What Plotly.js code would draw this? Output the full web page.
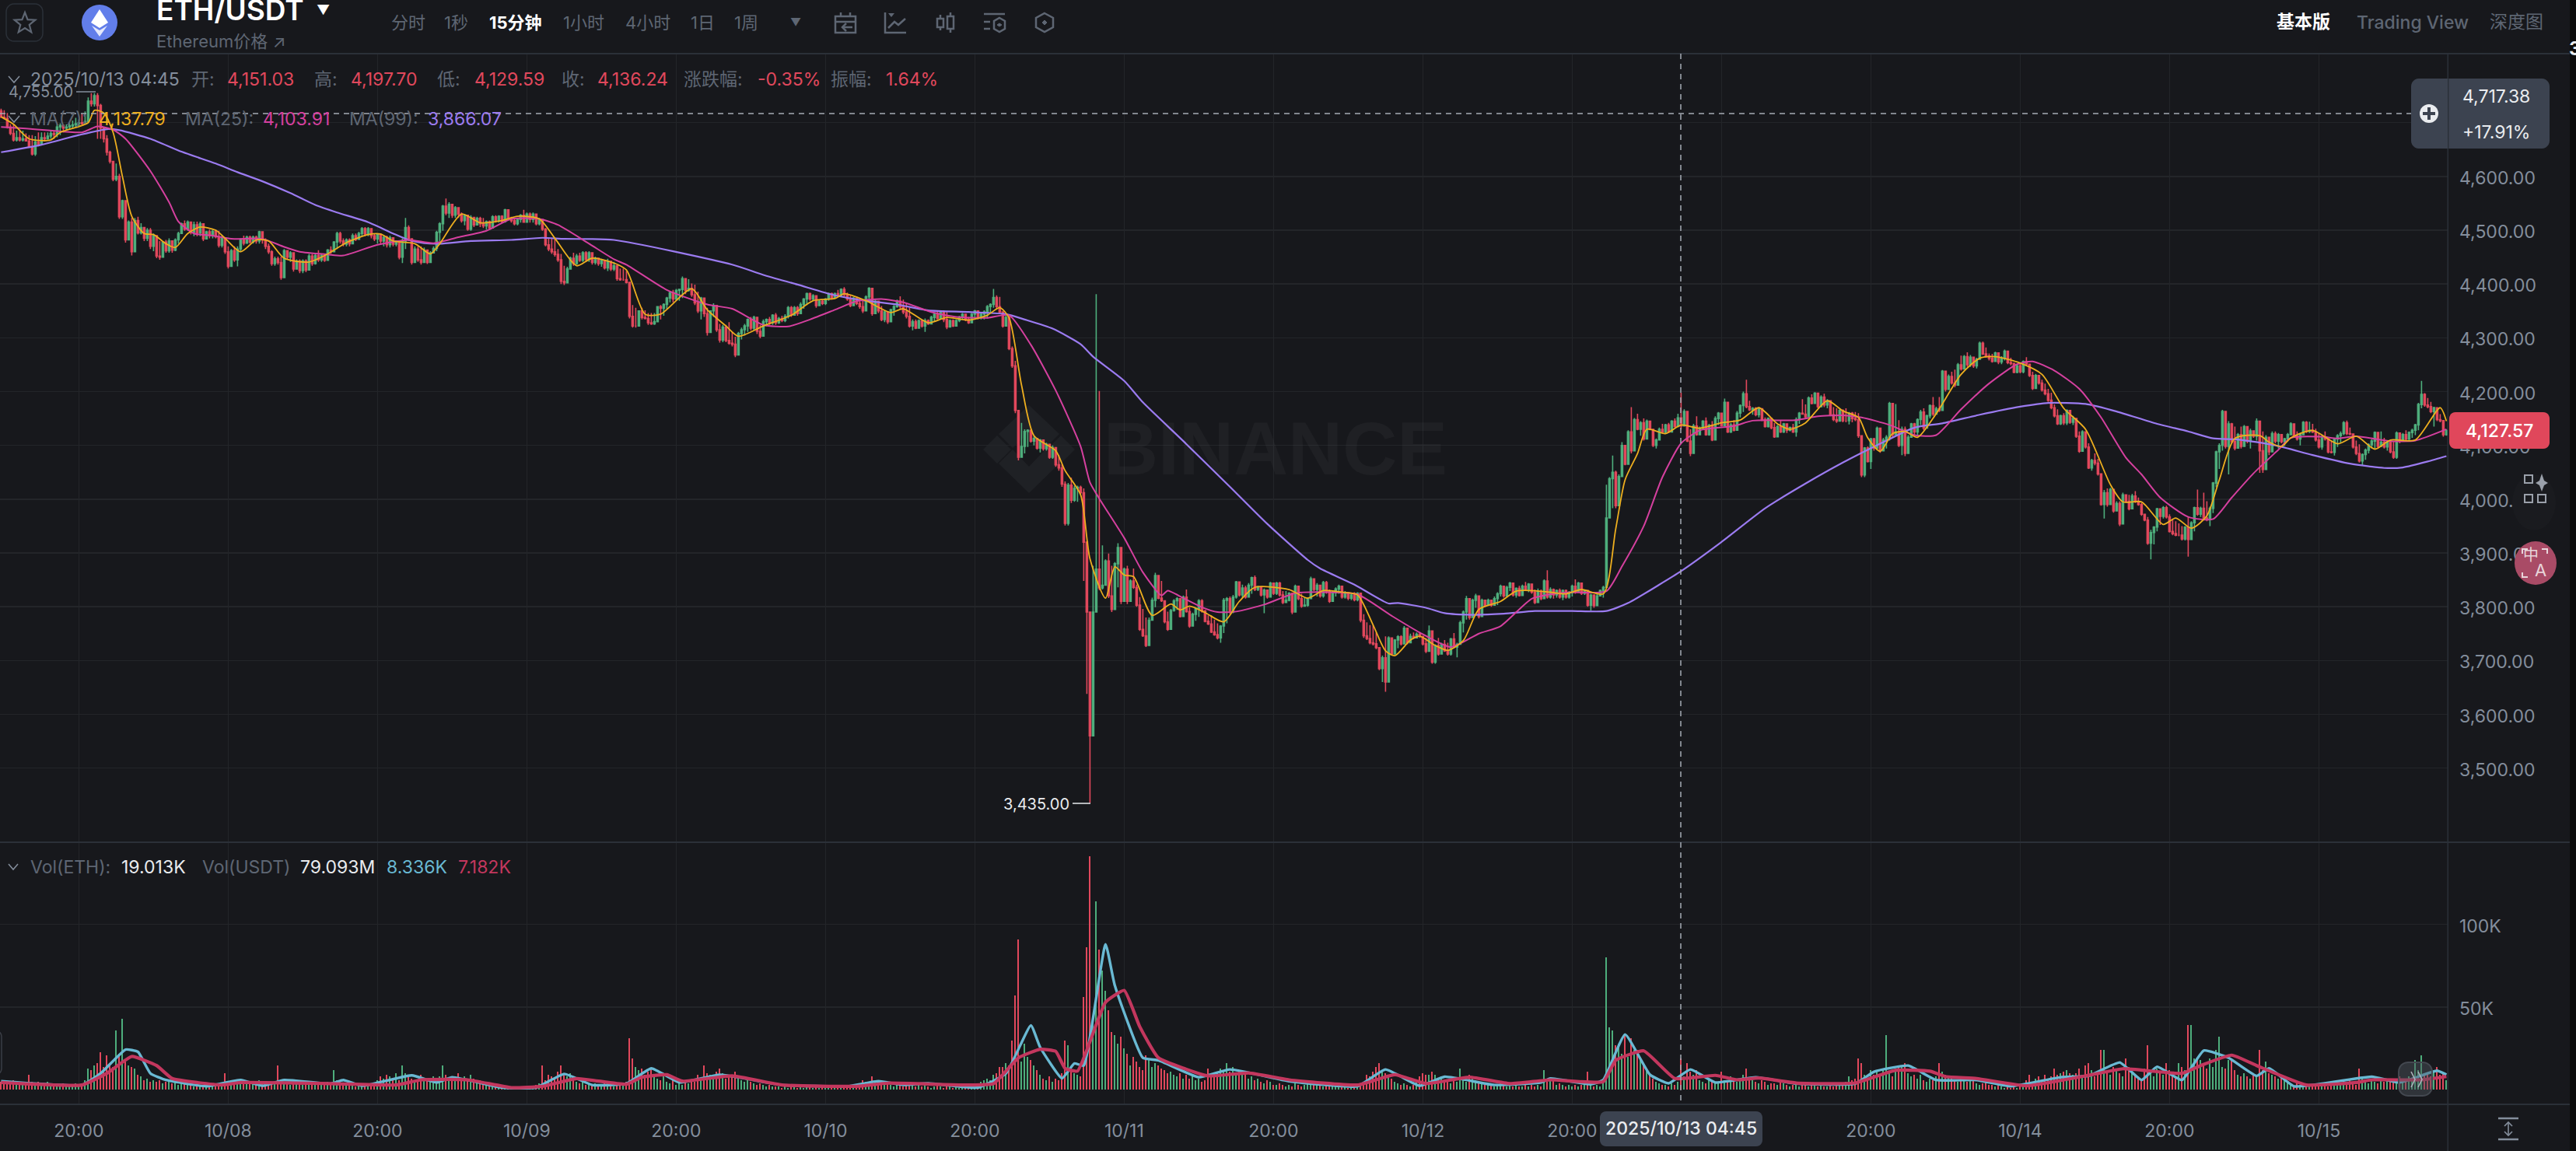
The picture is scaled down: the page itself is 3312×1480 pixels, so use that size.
<!DOCTYPE html>
<html><head><meta charset="utf-8">
<script src="https://cdn.plot.ly/plotly-3.0.1.min.js"></script>
<style>html,body{margin:0;padding:0;background:#17181c;overflow:hidden}#c{width:3312px;height:1480px}</style>
</head><body><div id="c"></div>
<script>
const firstOpen = 4722;
const closes = [
4710,4708,4692,4680,4668,4672,4668,4670,4666,4655,
4642,4664,4660,4672,4670,4675,4680,4678,4692,4695,
4690,4692,4694,4696,4698,4700,4698,4702,4740,4735,
4750,4732,4690,4670,4645,4628,4595,4600,4525,4555,
4482,4515,4460,4518,4495,4505,4485,4500,4470,4490,
4452,4450,4478,4462,4480,4463,4482,4494,4512,4502,
4515,4496,4510,4495,4512,4484,4497,4490,4498,4488,
4472,4486,4460,4433,4462,4445,4465,4482,4476,4487,
4478,4487,4480,4497,4482,4470,4460,4438,4447,4440,
4412,4462,4450,4458,4428,4442,4425,4443,4426,4452,
4438,4453,4445,4453,4444,4463,4460,4478,4494,4480,
4474,4482,4475,4490,4483,4494,4503,4493,4503,4490,
4484,4492,4480,4487,4473,4486,4474,4480,4450,4480,
4505,4484,4440,4465,4445,4440,4463,4440,4458,4466,
4496,4512,4545,4532,4548,4528,4542,4530,4518,4528,
4502,4524,4510,4522,4512,4508,4516,4504,4525,4518,
4526,4516,4538,4522,4518,4512,4520,4528,4515,4530,
4520,4530,4512,4520,4502,4473,4465,4460,4455,4445,
4405,4402,4428,4448,4438,4452,4444,4458,4446,4458,
4440,4448,4438,4444,4430,4442,4428,4434,4410,4408,
4408,4403,4340,4322,4322,4350,4338,4336,4328,4326,
4330,4358,4355,4362,4374,4384,4372,4388,4390,4410,
4388,4392,4380,4365,4350,4374,4345,4310,4350,4360,
4315,4296,4320,4295,4290,4288,4268,4308,4315,4322,
4334,4318,4338,4312,4303,4330,4334,4328,4342,4328,
4336,4332,4340,4356,4342,4356,4345,4362,4372,4382,
4372,4378,4360,4368,4364,4372,4382,4374,4382,4378,
4390,4380,4372,4360,4374,4364,4358,4350,4376,4392,
4345,4368,4350,4334,4348,4330,4352,4358,4368,4358,
4348,4340,4322,4330,4318,4332,4322,4332,4326,4338,
4344,4336,4348,4334,4320,4332,4322,4332,4338,4344,
4334,4328,4344,4350,4338,4344,4348,4358,4362,4375,
4358,4348,4322,4338,4280,4248,4165,4078,4098,4126,
4128,4108,4113,4095,4110,4094,4102,4078,4096,4064,
4058,4028,3955,4026,3998,4020,4022,4012,3920,3790,
3560,3790,3870,3835,3840,3885,3820,3795,3880,3910,
3810,3870,3810,3848,3836,3803,3758,3746,3728,3775,
3812,3858,3816,3811,3772,3758,3793,3811,3815,3782,
3818,3791,3764,3786,3796,3811,3792,3773,3768,3753,
3748,3742,3764,3812,3815,3790,3818,3846,3822,3835,
3818,3840,3854,3832,3837,3822,3831,3818,3844,3825,
3844,3822,3808,3812,3825,3790,3838,3815,3801,3803,
3815,3852,3832,3840,3820,3845,3828,3810,3826,3833,
3838,3818,3826,3816,3822,3813,3825,3775,3746,3741,
3733,3731,3724,3685,3705,3660,3742,3712,3738,3744,
3731,3760,3733,3745,3742,3749,3745,3731,3717,3755,
3697,3728,3712,3730,3718,3712,3740,3725,3730,3770,
3790,3815,3780,3812,3820,3782,3812,3803,3812,3803,
3815,3824,3838,3820,3836,3844,3822,3834,3821,3838,
3832,3842,3827,3808,3828,3815,3848,3818,3832,3822,
3830,3818,3830,3818,3826,3838,3827,3844,3825,3830,
3803,3822,3802,3820,3830,3836,3965,4038,4050,3988,
4042,4100,4065,4125,4090,4148,4130,4142,4112,4145,
4130,4100,4110,4130,4125,4138,4125,4145,4135,4151.03,
4136.24,4163,4108,4085,4136,4120,4132,4145,4120,4137,
4110,4150,4160,4137,4180,4125,4138,4128,4160,4174,
4196,4172,4166,4169,4157,4168,4148,4135,4150,4133,
4116,4135,4125,4140,4128,4133,4125,4148,4160,4158,
4153,4188,4178,4197,4172,4190,4175,4183,4157,4148,
4145,4165,4146,4146,4160,4150,4148,4118,4045,4095,
4070,4112,4095,4132,4090,4110,4115,4178,4120,4125,
4100,4130,4085,4115,4140,4125,4148,4162,4132,4155,
4174,4158,4168,4165,4238,4204,4228,4216,4212,4250,
4242,4265,4250,4264,4248,4260,4290,4270,4266,4262,
4256,4272,4255,4262,4275,4254,4252,4236,4248,4237,
4256,4251,4230,4206,4230,4216,4203,4196,4184,4170,
4155,4140,4155,4142,4165,4143,4150,4117,4089,4125,
4097,4058,4072,4067,4047,3990,4012,3990,4018,3978,
3992,3954,4008,3996,3982,4006,3996,3990,3972,3961,
3918,3938,3948,3982,3968,3984,3967,3940,3936,3933,
3933,3926,3948,3925,3956,3984,3972,3983,3965,3962,
3983,4030,4088,4100,4163,4098,4140,4107,4095,4120,
4098,4135,4108,4127,4117,4145,4090,4055,4115,4088,
4122,4108,4120,4107,4112,4120,4140,4117,4112,4120,
4143,4126,4128,4125,4110,4097,4115,4112,4088,4087,
4112,4118,4122,4142,4122,4121,4097,4085,4071,4083,
4091,4101,4108,4124,4098,4106,4097,4106,4088,4078,
4123,4108,4120,4112,4124,4128,4138,4176,4195,4175,
4172,4163,4170,4148,4146,4120,4127.57];
const highs = [
4726,4723,4718,4697,4697,4685,4687,4685,4680,4677,
4677,4675,4682,4682,4682,4682,4685,4685,4697,4699,
4697,4697,4699,4704,4709,4706,4716,4721,4747,4755,
4755,4755,4735,4687,4677,4648,4629,4624,4605,4557,
4555,4518,4523,4523,4525,4513,4501,4504,4504,4494,
4485,4480,4480,4482,4485,4480,4485,4497,4514,4518,
4518,4516,4516,4516,4516,4501,4499,4501,4501,4501,
4499,4490,4475,4470,4465,4470,4470,4485,4490,4490,
4490,4490,4490,4499,4490,4485,4475,4463,4451,4451,
4451,4465,4461,4461,4446,4446,4446,4446,4446,4456,
4456,4456,4463,4456,4456,4465,4470,4480,4497,4497,
4485,4485,4485,4494,4494,4497,4506,4506,4506,4501,
4494,4494,4494,4490,4490,4490,4480,4480,4480,4485,
4523,4509,4475,4470,4470,4470,4468,4461,4461,4470,
4499,4515,4547,4559,4552,4545,4545,4540,4533,4530,
4523,4528,4525,4525,4525,4523,4518,4518,4528,4528,
4528,4528,4540,4533,4525,4523,4523,4530,4538,4533,
4533,4533,4525,4523,4518,4504,4485,4485,4485,4465,
4456,4434,4432,4451,4458,4456,4458,4461,4461,4461,
4451,4451,4447,4447,4445,4447,4443,4441,4431,4429,
4429,4424,4401,4361,4356,4351,4356,4351,4346,4346,
4346,4359,4361,4364,4376,4386,4389,4391,4391,4414,
4411,4409,4401,4399,4386,4376,4374,4356,4351,4364,
4351,4326,4324,4324,4329,4311,4302,4311,4319,4326,
4336,4339,4341,4329,4324,4334,4336,4339,4344,4346,
4339,4341,4344,4359,4359,4359,4359,4366,4374,4384,
4384,4381,4374,4371,4371,4374,4384,4384,4384,4389,
4392,4394,4384,4379,4376,4374,4374,4371,4379,4394,
4391,4371,4361,4359,4351,4346,4354,4361,4371,4377,
4371,4364,4356,4334,4334,4334,4331,4336,4334,4341,
4346,4349,4351,4351,4349,4334,4334,4334,4341,4346,
4344,4339,4346,4352,4349,4346,4351,4361,4364,4391,
4379,4376,4346,4341,4341,4284,4257,4142,4142,4130,
4130,4122,4117,4112,4112,4107,4105,4102,4100,4087,
4082,4065,4033,4030,4040,4025,4025,4025,4020,3916,
3790,3876,4381,4201,3914,3888,3899,3876,3883,3918,
3902,3873,3876,3851,3871,3841,3818,3796,3780,3780,
3817,3863,3858,3848,3794,3791,3796,3814,3818,3809,
3821,3832,3799,3789,3799,3814,3814,3794,3784,3784,
3776,3769,3766,3816,3818,3819,3822,3848,3841,3841,
3839,3844,3856,3858,3839,3836,3834,3832,3846,3834,
3846,3846,3829,3829,3827,3824,3841,3839,3824,3817,
3817,3856,3851,3844,3839,3848,3848,3832,3829,3836,
3841,3836,3829,3824,3824,3827,3827,3815,3786,3771,
3766,3766,3752,3723,3709,3745,3745,3733,3740,3747,
3747,3764,3745,3750,3752,3752,3752,3742,3742,3765,
3733,3730,3742,3733,3738,3733,3742,3751,3733,3774,
3793,3820,3798,3815,3824,3815,3815,3810,3815,3812,
3819,3827,3841,3836,3839,3846,3841,3836,3839,3841,
3846,3844,3841,3832,3834,3832,3851,3868,3836,3834,
3832,3834,3832,3832,3829,3841,3851,3846,3836,3832,
3829,3824,3822,3824,3832,3839,4027,4041,4081,4053,
4046,4106,4087,4128,4171,4151,4159,4145,4150,4148,
4145,4130,4113,4133,4140,4140,4142,4147,4150,4159,
4197.7,4167,4140,4130,4140,4154,4135,4147,4152,4140,
4145,4154,4162,4150,4187,4145,4142,4147,4164,4176,
4200,4222,4183,4171,4171,4171,4167,4152,4152,4147,
4142,4138,4147,4142,4138,4135,4140,4152,4162,4186,
4176,4191,4195,4199,4191,4193,4196,4186,4179,4171,
4169,4167,4167,4169,4162,4162,4162,4160,4119,4097,
4098,4114,4114,4135,4128,4114,4119,4181,4174,4177,
4147,4135,4135,4119,4142,4142,4150,4166,4169,4157,
4176,4190,4172,4190,4240,4238,4232,4237,4241,4253,
4267,4268,4273,4268,4263,4263,4293,4293,4282,4271,
4270,4274,4268,4266,4278,4273,4263,4254,4251,4254,
4258,4264,4249,4237,4233,4229,4222,4215,4205,4198,
4176,4167,4157,4160,4167,4160,4155,4143,4126,4128,
4119,4104,4075,4085,4075,4044,4017,4020,4021,4008,
3996,3996,4012,4008,4008,4010,4015,4003,3993,3969,
3967,3943,3950,3984,3974,3987,3988,3972,3964,3959,
3955,3950,3950,3967,3959,3986,4018,3986,4012,3996,
3986,4032,4090,4104,4166,4150,4145,4142,4135,4123,
4135,4138,4128,4131,4128,4150,4135,4126,4119,4114,
4126,4126,4123,4119,4114,4123,4143,4133,4126,4123,
4145,4145,4144,4140,4131,4123,4119,4126,4111,4109,
4114,4121,4126,4145,4146,4133,4119,4109,4102,4085,
4094,4104,4111,4126,4109,4126,4114,4109,4109,4107,
4126,4123,4123,4128,4126,4131,4140,4179,4220,4197,
4188,4181,4172,4160,4158,4147,4130];
const lows = [
4711,4706,4689,4677,4665,4665,4665,4665,4665,4653,
4639,4638,4656,4663,4665,4668,4670,4670,4673,4677,
4682,4685,4687,4689,4692,4694,4697,4697,4718,4730,
4730,4670,4670,4663,4639,4624,4591,4591,4521,4521,
4477,4485,4453,4480,4492,4492,4480,4480,4465,4461,
4448,4445,4451,4458,4458,4458,4461,4475,4494,4499,
4499,4492,4489,4489,4489,4480,4485,4485,4485,4485,
4468,4468,4456,4429,4446,4441,4433,4461,4472,4475,
4475,4475,4475,4475,4475,4465,4456,4434,4434,4436,
4408,4439,4446,4441,4423,4427,4420,4420,4422,4432,
4434,4436,4441,4441,4441,4446,4456,4461,4465,4475,
4470,4470,4470,4477,4480,4485,4489,4489,4489,4485,
4480,4475,4475,4470,4468,4468,4470,4470,4446,4439,
4465,4480,4436,4456,4441,4436,4451,4437,4446,4458,
4461,4480,4499,4528,4523,4523,4523,4523,4514,4509,
4499,4499,4506,4509,4506,4504,4501,4501,4514,4514,
4514,4514,4514,4518,4514,4509,4509,4514,4514,4514,
4514,4514,4509,4509,4499,4470,4461,4456,4451,4441,
4400,4398,4412,4432,4434,4436,4441,4441,4441,4441,
4436,4436,4434,4432,4427,4424,4424,4424,4406,4406,
4406,4401,4336,4319,4319,4324,4334,4334,4324,4324,
4324,4329,4334,4341,4354,4366,4366,4369,4369,4374,
4381,4386,4376,4361,4346,4334,4339,4304,4314,4339,
4311,4291,4292,4292,4287,4284,4264,4267,4297,4304,
4311,4314,4314,4307,4299,4305,4321,4324,4324,4324,
4326,4329,4329,4336,4339,4341,4341,4349,4354,4361,
4369,4369,4356,4359,4361,4361,4369,4371,4374,4375,
4376,4376,4369,4357,4361,4361,4354,4346,4364,4366,
4341,4346,4346,4331,4329,4326,4331,4341,4356,4354,
4344,4336,4319,4314,4316,4319,4319,4311,4324,4326,
4331,4334,4334,4329,4316,4319,4320,4321,4329,4334,
4331,4326,4331,4334,4334,4334,4334,4336,4346,4356,
4354,4344,4319,4321,4277,4244,4160,4072,4092,4085,
4097,4105,4100,4092,4087,4090,4090,4075,4075,4060,
4053,4023,3951,3951,3993,3995,3995,4010,3848,3638,
3435,3560,3789,3831,3832,3848,3816,3790,3816,3836,
3805,3833,3805,3818,3833,3800,3755,3744,3725,3729,
3774,3799,3814,3809,3769,3755,3769,3791,3794,3780,
3781,3789,3761,3766,3774,3781,3789,3771,3766,3751,
3746,3739,3733,3751,3769,3786,3788,3815,3819,3817,
3815,3819,3824,3829,3829,3819,3788,3815,3822,3822,
3822,3819,3805,3815,3810,3786,3803,3812,3798,3800,
3800,3819,3829,3819,3817,3817,3824,3807,3810,3819,
3824,3815,3815,3812,3812,3810,3810,3771,3742,3738,
3730,3728,3721,3682,3660,3642,3665,3709,3723,3723,
3728,3735,3730,3738,3740,3742,3742,3728,3714,3725,
3694,3694,3709,3711,3716,3709,3709,3723,3706,3733,
3752,3776,3776,3791,3798,3778,3798,3800,3805,3800,
3803,3803,3819,3817,3822,3829,3819,3817,3819,3827,
3829,3827,3824,3805,3810,3812,3824,3815,3815,3815,
3817,3815,3812,3815,3815,3819,3824,3829,3822,3822,
3800,3793,3798,3807,3819,3817,3839,3964,3983,3983,
4007,4044,4063,4070,4085,4097,4128,4118,4109,4126,
4128,4097,4094,4109,4123,4121,4123,4130,4133,4138,
4129.59,4138,4106,4080,4116,4118,4126,4130,4118,4118,
4108,4133,4138,4135,4140,4123,4123,4126,4140,4152,
4162,4169,4164,4157,4154,4152,4145,4133,4133,4130,
4114,4121,4123,4123,4123,4126,4123,4116,4140,4157,
4150,4171,4176,4181,4169,4174,4171,4169,4154,4145,
4142,4152,4143,4143,4139,4143,4145,4114,4041,4041,
4068,4056,4090,4092,4086,4090,4094,4109,4114,4121,
4097,4082,4080,4092,4119,4116,4116,4138,4128,4140,
4150,4155,4157,4162,4196,4200,4205,4213,4208,4229,
4239,4246,4246,4246,4244,4243,4263,4268,4263,4258,
4254,4258,4251,4251,4258,4251,4249,4234,4234,4234,
4234,4249,4227,4203,4213,4213,4200,4193,4181,4167,
4152,4138,4138,4138,4138,4140,4138,4114,4086,4097,
4094,4056,4053,4063,4044,3988,3964,3986,3998,3975,
3979,3950,3964,3993,3979,3988,3993,3988,3969,3959,
3915,3888,3916,3940,3952,3964,3964,3938,3933,3931,
3931,3923,3923,3893,3928,3940,3969,3967,3962,3959,
3950,3974,4022,4056,4090,4094,4046,4104,4091,4097,
4094,4109,4104,4094,4114,4109,4049,4049,4085,4082,
4094,4104,4094,4104,4099,4107,4119,4114,4109,4100,
4123,4123,4123,4123,4107,4094,4092,4109,4085,4085,
4081,4097,4104,4119,4119,4119,4094,4082,4068,4062,
4073,4085,4094,4094,4094,4104,4094,4090,4085,4075,
4075,4104,4107,4109,4109,4114,4119,4128,4169,4172,
4169,4160,4135,4145,4143,4116,4118];
const volumesK = [
5,6,4,5,6,4,5,3,4,9,
5,4,5,3,4,5,3,4,3,3,
4,3,2,3,4,3,4,6,13,12,
15,16,23,14,21,15,14,36,22,43,
17,15,14,13,9,8,6,7,5,6,
5,6,4,5,6,4,5,3,4,4,
3,3,2,3,2,3,2,3,3,2,
3,4,10,5,6,5,4,4,6,5,
4,5,3,6,5,4,3,4,5,15,
6,5,4,3,5,4,6,3,5,4,
3,4,5,4,3,5,4,12,6,5,
4,3,4,3,2,3,4,2,3,3,
3,6,8,7,9,8,7,10,6,15,
10,8,7,6,5,9,6,7,5,8,
7,8,15,9,7,8,6,10,7,8,
6,9,7,5,6,4,5,3,4,3,
2,3,2,1,2,1,2,1,2,1,
2,2,3,4,15,6,9,8,7,11,
15,9,8,10,6,5,4,5,3,4,
3,4,3,3,4,5,3,2,4,3,
4,5,31,19,14,12,13,9,11,13,
8,7,6,8,5,4,6,3,4,3,
5,4,6,5,9,7,15,10,9,8,
11,13,10,7,9,8,11,7,6,5,
6,5,4,3,4,3,2,3,2,2,
2,1,2,1,2,2,1,2,1,2,
2,1,2,1,2,1,2,1,2,2,
1,2,2,3,2,3,4,6,5,4,
8,5,4,3,3,4,3,2,3,4,
2,3,4,3,2,3,2,3,2,1,
2,3,2,1,2,2,1,2,1,2,
1,2,2,3,4,5,6,7,6,9,
10,14,14,16,15,30,57,91,17,28,
20,18,15,12,9,7,6,8,5,7,
6,10,30,27,12,10,9,8,56,86,
141,42,114,85,72,60,48,35,33,28,
32,25,22,15,20,17,14,12,21,18,
14,16,15,13,12,10,11,9,8,10,
7,9,7,8,6,7,5,6,13,9,
10,11,13,12,16,11,14,10,12,9,
11,7,8,6,7,5,4,6,5,3,
3,4,3,2,3,2,4,3,2,3,
4,3,5,3,4,2,3,2,3,2,
3,2,2,1,2,2,3,2,4,9,
8,11,14,16,12,10,9,7,5,4,
3,4,3,2,3,5,8,10,9,9,
11,9,7,8,6,5,4,6,5,13,
7,5,9,8,6,4,5,3,4,3,
2,3,4,3,2,3,2,3,2,2,
3,2,3,2,3,2,12,5,6,7,
3,4,3,2,3,2,3,2,3,4,
11,5,2,3,2,4,80,38,36,27,
28,22,34,20,31,24,24,19,15,12,
9,7,5,4,3,3,2,4,3,5,
19,8,16,11,9,12,6,5,4,7,
6,5,4,11,6,5,8,7,5,6,
9,13,7,6,5,4,6,5,3,4,
4,3,5,4,3,2,3,4,2,3,
3,2,4,3,2,3,2,2,3,2,
3,4,3,5,8,6,7,19,16,9,
7,12,9,11,8,13,33,10,8,13,
14,15,16,10,8,9,7,9,6,5,
7,6,8,16,11,9,8,7,6,5,
7,8,5,6,7,4,3,4,5,3,
3,2,3,2,1,2,1,2,1,3,
4,6,9,5,7,8,6,9,7,8,
13,9,10,11,12,10,9,10,13,9,
15,16,12,8,10,24,24,11,9,14,
12,10,8,19,14,10,9,8,7,13,
27,11,8,13,10,9,16,12,10,8,
16,14,12,39,39,19,19,18,16,13,
19,14,24,32,14,13,18,19,12,9,
8,10,8,7,9,9,24,12,17,10,
9,8,7,9,6,5,4,3,5,3,
4,3,2,3,4,3,4,3,2,3,
3,4,3,5,4,6,5,3,13,7,
5,4,6,5,4,6,5,7,6,5,
7,8,6,5,8,6,18,12,21,9,
10,8,11,14,9,10,6];

const ma7X = [0,4,9,16,19,28,30,33,36,39,42,46,49,53,56,60,64,69,72,77,82,86,91,99,105,111,118,122,126,133,138,141,148,154,161,166,173,178,185,190,197,201,207,212,222,227,233,237,245,254,261,268,271,278,286,290,298,304,311,317,321,324,328,332,339,342,347,350,355,358,361,364,370,376,379,382,387,393,398,403,414,420,425,431,436,441,445,448,453,456,461,465,470,475,482,487,492,498,503,508,515,519,522,526,529,535,540,546,553,559,565,571,575,580,587,592,597,600,604,608,612,616,622,630,636,641,649,656,663,670,678,682,688,695,699,704,709,713,718,726,729,733,736,743,751,757,763,768,776,784,786];
const ma7Y = [4711,4697,4670,4668,4682,4700,4723,4718,4682,4600,4526,4494,4492,4475,4468,4494,4506,4500,4485,4460,4482,4480,4448,4441,4456,4477,4492,4493,4480,4475,4456,4475,4530,4514,4518,4526,4521,4485,4434,4448,4439,4426,4344,4344,4391,4352,4322,4303,4322,4342,4369,4373,4382,4369,4347,4354,4328,4338,4333,4342,4356,4337,4212,4118,4090,4053,4008,3889,3816,3874,3859,3856,3784,3805,3794,3801,3789,3772,3810,3836,3832,3816,3830,3827,3822,3766,3718,3709,3738,3745,3728,3719,3737,3795,3810,3829,3830,3827,3824,3832,3824,3945,4036,4085,4130,4122,4137.79,4132,4142,4147,4170,4140,4130,4142,4183,4164,4152,4114,4089,4122,4126,4115,4159,4232,4262,4265,4253,4232,4169,4130,4027,3995,3995,3953,3965,3946,3969,4036,4113,4118,4106,4098,4114,4128,4103,4117,4093,4110,4110,4170,4145];
const ma25X = [0,8,15,26,31,36,40,48,54,57,62,68,74,84,91,96,105,110,121,131,139,147,156,164,173,179,189,197,201,214,227,235,245,253,260,268,275,283,290,299,307,317,324,331,339,347,350,353,361,367,373,375,380,386,391,397,406,416,426,436,447,456,466,475,482,492,499,505,516,521,528,534,540,546,557,563,577,584,592,598,607,615,622,630,639,648,653,660,668,675,683,688,694,703,711,717,724,732,736,746,751,757,768,776,786];
const ma25Y = [4692,4689,4686,4682,4693,4687,4670,4610,4552,4516,4494,4490,4484,4484,4469,4460,4455,4453,4473,4482,4476,4487,4499,4521,4521,4510,4475,4446,4436,4389,4362,4354,4324,4321,4334,4352,4368,4372,4366,4348,4339,4337,4342,4287,4202,4098,4031,4001,3928,3864,3821,3830,3816,3799,3790,3791,3804,3825,3827,3823,3783,3752,3725,3750,3764,3815,3824,3827,3829,3875,3950,4041,4103.91,4128,4136,4146,4147,4154,4156,4152,4138,4119,4119,4167,4215,4251,4256,4239,4205,4152,4077,4046,4003,3967,3963,4003,4048,4092,4114,4116,4113,4117,4108,4109,4130];
const ma99X = [0,13,25,34,38,48,58,69,76,84,93,101,108,118,126,131,136,141,151,164,174,181,197,235,245,256,268,278,288,298,311,323,329,338,347,351,361,367,380,395,407,420,424,435,446,449,458,464,473,483,493,505,516,523,533,540,552,567,580,592,605,615,624,636,649,658,670,680,693,703,711,719,731,743,755,766,772,780,786];
const ma99Y = [4645,4659,4677,4688,4686,4670,4646,4624,4608,4591,4569,4547,4533,4515,4494,4482,4476,4475,4480,4482,4486,4484,4482,4436,4417,4399,4379,4369,4362,4351,4348,4344,4334,4317,4288,4265,4220,4180,4108,4023,3954,3887,3871,3841,3806,3807,3798,3788,3785,3787,3792,3792,3792,3807,3841,3866.07,3916,3983,4029,4068,4106,4133,4141,4157,4172,4179,4177,4163,4140,4126,4113,4111,4100,4082,4066,4058,4059,4070,4080];
const volFastX = [0,26,32,40,44,48,53,66,77,84,91,106,110,116,132,140,145,161,172,181,190,201,209,218,231,251,272,282,290,298,314,323,331,334,341,345,348,355,358,367,372,385,395,414,436,445,456,464,480,495,498,511,515,522,530,536,543,551,564,577,596,602,613,622,635,646,662,671,681,688,693,701,708,716,725,729,737,746,762,771,783,786];
const volFastY = [5.3,3,10,24.4,23,10,6,2.2,6,2.5,6,3.8,6,2.5,8.8,4.5,7.7,1.4,1.4,9.7,3,3.8,13,4.5,9.2,3,2.2,5.3,3,4,1.4,10,39,25.7,7,16,14.7,88,63,19.4,17.9,7.7,12.4,5.3,2.2,12.4,2.5,8,3,4.5,6.9,3.4,6.1,33.5,9.2,4,12.4,4.5,7.7,3.8,3.8,11,14.7,6,6,2.2,7.7,8.5,16.6,6,14,6,23.8,19.4,8.5,13,2.2,3.8,8,4.5,11.6,9.2];
const volSlowX = [0,26,34,42,50,55,71,77,106,127,135,150,164,174,185,201,206,214,219,235,251,275,285,309,319,327,334,339,342,346,355,361,366,372,388,401,414,436,448,458,472,485,498,515,519,528,538,551,558,565,577,596,609,620,625,635,651,672,682,701,707,717,725,741,757,762,778,786];
const volSlowY = [4.5,3,10,20.2,14.7,6.9,3,4.5,3.8,3,6.1,6.1,1.4,2.2,6.9,3.4,7.7,9.2,5.3,8.5,3,2.2,4.1,3,3.8,19.4,24.6,23.3,13,11.4,53,60.1,38.2,19.4,8.5,10.3,6.1,3,9.2,3.8,7.7,3.8,6.1,5,17.9,23.6,6.9,8.8,6.1,7.2,4.2,4.2,11.9,11.3,8.1,6.9,2.5,9.2,12.8,10,14.7,21,14.7,3,4.5,6.1,6.1,8.1];
const tickLabels = ['20:00','10/08','20:00','10/09','20:00','10/10','20:00','10/11','20:00','10/12','20:00','','20:00','10/14','20:00','10/15'];
const tickCandles = [25,73,121,169,217,265,313,361,409,457,505,553,601,649,697,745];
const priceTicks = [3500,3600,3700,3800,3900,4000,4100,4200,4300,4400,4500,4600,4700];
const volumeTicks = [50,100];

const W=3312,H=1480;
const n=closes.length;
if(highs.length!==787||lows.length!==787||n!==787||volumesK.length!==787) throw new Error('lengths c='+n+' h='+highs.length+' l='+lows.length+' v='+volumesK.length);
if(volFastX.length!==volFastY.length||volSlowX.length!==volSlowY.length) throw new Error('vol ma '+volFastX.length+'/'+volFastY.length+' '+volSlowX.length+'/'+volSlowY.length);
const idx=closes.map((_,i)=>i);
const opens=[firstOpen].concat(closes.slice(0,-1));
const GREEN='#4EAE7C',RED='#E1485C',BG='#17181C',GRID='#232529',AXIS='#2B3038',MUTE='#848E9C',DIM='#5E6673';
const F="Inter, 'Noto Sans CJK SC', sans-serif";
const fmt=v=>v.toLocaleString('en-US',{minimumFractionDigits:2,maximumFractionDigits:2});
const T=(text,x,y,o={})=>({xref:'paper',yref:'paper',x:x/W,y:1-y/H,xanchor:o.a||'left',yanchor:'middle',showarrow:false,text,
  font:{family:o.f||F,size:o.s||23,color:o.c||MUTE,weight:o.w||400},borderpad:0});
const pt=(x,y)=>(x/W).toFixed(6)+','+(1-y/H).toFixed(6);
const P=(pts,close)=>'M'+pts.map(p=>pt(p[0],p[1])).join('L')+(close?'Z':'');
const S=(pts,o={})=>({type:'path',xref:'paper',yref:'paper',path:P(pts,o.z),layer:o.l||'above',
  line:{color:o.c||DIM,width:o.w===undefined?2.5:o.w,dash:o.d||'solid'},fillcolor:o.f||'rgba(0,0,0,0)'});
const R=(x0,y0,x1,y1,o={})=>({type:o.t||'rect',xref:'paper',yref:'paper',x0:x0/W,x1:x1/W,y0:1-y0/H,y1:1-y1/H,layer:o.l||'above',
  line:{color:o.c||'rgba(0,0,0,0)',width:o.w||0},fillcolor:o.f||'rgba(0,0,0,0)'});
const RR=(x0,y0,x1,y1,r,o={})=>{const a=[];const c=[[x1-r,y0+r,-90],[x1-r,y1-r,0],[x0+r,y1-r,90],[x0+r,y0+r,180]];
  c.forEach(q=>{for(let d=0;d<=90;d+=15){const t=(q[2]+d)*Math.PI/180;a.push([q[0]+r*Math.cos(t),q[1]+r*Math.sin(t)]);}});
  return S(a,{z:true,c:o.c||'rgba(0,0,0,0)',w:o.w||0,f:o.f,l:o.l});};

const traces=[
 {type:'candlestick',x:idx,open:opens,high:highs,low:lows,close:closes,xaxis:'x',yaxis:'y',width:0.5,whiskerwidth:0,
  increasing:{line:{color:GREEN,width:1.6},fillcolor:GREEN},decreasing:{line:{color:RED,width:1.6},fillcolor:RED},hoverinfo:'skip'},
 {type:'scatter',mode:'lines',x:ma99X,y:ma99Y,xaxis:'x',yaxis:'y',line:{color:'#9B7BF0',width:2.2,shape:'spline',smoothing:0.6},hoverinfo:'skip'},
 {type:'scatter',mode:'lines',x:ma25X,y:ma25Y,xaxis:'x',yaxis:'y',line:{color:'#D5409F',width:2,shape:'spline',smoothing:0.6},hoverinfo:'skip'},
 {type:'scatter',mode:'lines',x:ma7X,y:ma7Y,xaxis:'x',yaxis:'y',line:{color:'#EDAE1F',width:1.8,shape:'spline',smoothing:0.7},hoverinfo:'skip'},
 {type:'bar',x:idx,y:volumesK,xaxis:'x',yaxis:'y2',width:0.5,marker:{color:idx.map(i=>closes[i]>=opens[i]?GREEN:RED),line:{width:0}},hoverinfo:'skip'},
 {type:'scatter',mode:'lines',x:volFastX,y:volFastY,xaxis:'x',yaxis:'y2',line:{color:'#69B9D3',width:3.4,shape:'spline',smoothing:0.4},hoverinfo:'skip'},
 {type:'scatter',mode:'lines',x:volSlowX,y:volSlowY,xaxis:'x',yaxis:'y2',line:{color:'#C3375E',width:4.2,shape:'spline',smoothing:0.4},hoverinfo:'skip'}
];

const star=[];for(let k=0;k<10;k++){const r=k%2?6:14,t=(-90+36*k)*Math.PI/180;star.push([32+r*Math.cos(t),30+r*Math.sin(t)]);}
const shapes=[
 R(3304,0,3312,1480,{f:'#0C0C0C'}),
 R(0,68,3304,70,{f:AXIS}),R(0,1082,3304,1084,{f:AXIS}),R(0,1419,3304,1421,{f:AXIS}),R(3146.5,69,3148,1480,{f:AXIS}),
 S([[1323,521],[1362,558],[1344,576],[1323,556],[1302,576],[1284,558]],{z:true,f:'#1F2125',w:0,l:'below'}),
 S([[1282,560],[1300,578],[1282,596],[1264,578]],{z:true,f:'#1F2125',w:0,l:'below'}),
 S([[1364,560],[1382,578],[1364,596],[1346,578]],{z:true,f:'#1F2125',w:0,l:'below'}),
 S([[1323,634],[1284,596],[1302,578],[1323,600],[1344,578],[1362,596]],{z:true,f:'#1F2125',w:0,l:'below'}),
 S([[2161,69],[2161,1420]],{c:'#A7ACB5',w:1.5,d:'7px,6px'}),
 S([[0,146],[3100,146]],{c:'#A7ACB5',w:1.5,d:'7px,6px'}),
 RR(8,5,55,53,10,{c:'#2B3038',w:1.5}),
 S(star,{z:true,c:'#5E6673',w:2.2}),
 R(105,6,151,52,{t:'circle',f:'#627EEA'}),
 S([[128,12],[139,29],[128,36],[117,29]],{z:true,f:'#FFFFFF',w:0}),
 S([[128,39],[138,33],[128,47],[118,33]],{z:true,f:'#E4E8FB',w:0}),
 S([[1074,21],[1100,21],[1100,42],[1074,42]],{z:true}),S([[1074,28],[1100,28]]),S([[1081,16],[1081,21]]),S([[1093,16],[1093,21]]),S([[1096,35],[1083,35]]),S([[1088,30],[1083,35],[1088,40]]),
 S([[1138,16],[1138,42],[1165,42]]),S([[1142,36],[1150,28],[1155,32],[1164,24]]),S([[1142,17],[1150,17],[1146,22]],{z:true,f:'#5E6673',w:0}),
 S([[1205,24],[1213,24],[1213,35],[1205,35]],{z:true}),S([[1209,19],[1209,24]]),S([[1209,35],[1209,39]]),S([[1218,21],[1226,21],[1226,37],[1218,37]],{z:true}),S([[1222,16],[1222,21]]),S([[1222,37],[1222,42]]),
 S([[1265,18],[1292,18]]),S([[1265,28],[1273,28]]),S([[1265,37],[1273,37]]),S([[1285,23],[1292,27],[1292,37],[1285,41],[1278,37],[1278,27]],{z:true}),S([[1285,30],[1288,32],[1285,34],[1282,32]],{z:true,f:'#5E6673',w:1}),
 S([[1343,17],[1354,23],[1354,35],[1343,41],[1332,35],[1332,23]],{z:true}),S([[1343,26],[1346,29],[1343,32],[1340,29]],{z:true,f:'#5E6673',w:1}),
 S([[11,98],[18,106],[25,98]],{w:1.5,c:'#848E9C'}),S([[11,149],[18,157],[25,149]],{w:1.5,c:'#848E9C'}),S([[11,1111],[17,1118],[23,1111]],{w:1.5,c:'#848E9C'}),
 S([[98,118],[123,118]],{c:'#848E9C',w:1.5}),S([[1379,1033],[1402,1033]],{c:'#EAECEF',w:1.5}),
 RR(3100,101,3278,191,10,{f:'#3C4350'}),
 R(3147,101,3148.5,191,{f:'#2B3038'}),
 R(3111,134,3135,158,{t:'circle',f:'#EAECEF'}),
 R(3115,144,3131,148,{f:'#3C4350'}),R(3121,138,3125,154,{f:'#3C4350'}),
 RR(3149,530,3278,577,8,{f:'#E0475B'}),
 R(3230,610,3286,682,{t:'circle',f:'#1A1B1F'}),
 S([[3246,611],[3256,611],[3256,621],[3246,621]],{z:true,c:'#9AA0AA',w:2}),S([[3246,636],[3256,636],[3256,646],[3246,646]],{z:true,c:'#9AA0AA',w:2}),S([[3263,636],[3273,636],[3273,646],[3263,646]],{z:true,c:'#9AA0AA',w:2}),
 S([[3268,609],[3271,618],[3276,621],[3271,624],[3268,632],[3265,624],[3260,621],[3265,618]],{z:true,f:'#9AA0AA',w:0}),
 R(3233,696,3287,752,{t:'circle',f:'#A94B66'}),
 S([[3243,712],[3243,706],[3250,706]],{c:'#E8D5DA',w:2}),S([[3268,706],[3275,706],[3275,712]],{c:'#E8D5DA',w:2}),S([[3243,736],[3243,742],[3250,742]],{c:'#E8D5DA',w:2}),
 RR(3084,1366,3127,1409,12,{f:'rgba(80,86,96,0.45)',c:'#434850',w:2}),
 S([[3100,1378],[3105,1388],[3100,1398]],{c:'#AEB4BC',w:1.6}),S([[3109,1378],[3114,1388],[3109,1398]],{c:'#AEB4BC',w:1.6}),
 S([[3212,1438],[3238,1438]],{c:'#848E9C',w:2.5}),S([[3212,1465],[3238,1465]],{c:'#848E9C',w:2.5}),S([[3225,1443],[3225,1460]],{c:'#848E9C',w:1.6}),S([[3220,1448],[3225,1443],[3230,1448]],{c:'#848E9C',w:1.6}),S([[3220,1455],[3225,1460],[3230,1455]],{c:'#848E9C',w:1.6}),
 RR(-8,1325,2,1382,8,{c:'#3A3E46',w:1.5}),
 RR(2057,1429,2266,1474,8,{f:'#3C4350'})
];

const annotations=[
 T('BINANCE',1640,577,{a:'center',s:97,w:800,c:'rgba(255,255,255,0.035)',f:"'Liberation Sans',sans-serif"}),
 T('ETH/USDT',200,12,{s:37,c:'#FFFFFF',w:600}),T('▼',415,13,{a:'center',s:17,c:'#FFFFFF'}),
 T('Ethereum价格 ↗',200,53,{s:22,c:DIM}),
 T('分时',502,29,{s:22,c:DIM}),T('1秒',570,29,{s:22,c:DIM}),T('15分钟',628,29,{s:22,c:'#FFFFFF',w:700}),
 T('1小时',723,29,{s:22,c:DIM}),T('4小时',803,29,{s:22,c:DIM}),T('1日',887,29,{s:22,c:DIM}),T('1周',943,29,{s:22,c:DIM}),T('▼',1023,29,{a:'center',s:14,c:DIM}),
 T('基本版',2926,28,{s:23,c:'#FFFFFF',w:700}),T('Trading View',3029,29,{s:23,c:DIM,w:500}),T('深度图',3200,28,{s:23,c:DIM}),
 T('3',3302,62,{s:24,c:'#EAECEF',w:700}),
 T('2025/10/13 04:45',38,102,{s:23}),
 T('开:',245,102,{s:23,c:DIM}),T('4,151.03',291,102,{s:23,c:RED}),
 T('高:',403,102,{s:23,c:DIM}),T('4,197.70',450,102,{s:23,c:RED}),
 T('低:',561,102,{s:23,c:DIM}),T('4,129.59',609,102,{s:23,c:RED}),
 T('收:',721,102,{s:23,c:DIM}),T('4,136.24',767,102,{s:23,c:RED}),
 T('涨跌幅:',878,102,{s:23,c:DIM}),T('-0.35%',973,102,{s:23,c:RED}),
 T('振幅:',1067,102,{s:23,c:DIM}),T('1.64%',1138,102,{s:23,c:RED}),
 T('MA(7):',38,153,{s:23,c:DIM}),T('4,137.79',126,153,{s:23,c:'#EDAE1F'}),
 T('MA(25):',237,153,{s:23,c:DIM}),T('4,103.91',337,153,{s:23,c:'#D5409F'}),
 T('MA(99):',448,153,{s:23,c:DIM}),T('3,866.07',549,153,{s:23,c:'#9B7BF0'}),
 T('4,755.00',10,118,{s:20,c:MUTE}),T('3,435.00',1289,1034,{s:20,c:'#EAECEF'}),
 T('4,717.38',3165,124,{s:23,c:'#EAECEF'}),T('+17.91%',3165,170,{s:23,c:'#EAECEF'}),
 T('4,127.57',3213,554,{a:'center',s:23,c:'#FFFFFF',w:500}),
 T('中',3254,714,{a:'center',s:20,c:'#E8D5DA'}),T('A',3266,733,{a:'center',s:22,c:'#E8D5DA'}),
 T('Vol(ETH):',38,1115,{s:23,c:DIM}),T('19.013K',155,1115,{s:23,c:'#EAECEF'}),
 T('Vol(USDT)',259,1115,{s:23,c:DIM}),T('79.093M',385,1115,{s:23,c:'#EAECEF'}),
 T('8.336K',496,1115,{s:23,c:'#69B9D3'}),T('7.182K',588,1115,{s:23,c:'#C3375E'}),
 T('2025/10/13 04:45',2161.5,1451,{a:'center',s:23,c:'#EAECEF',w:500})
];

const layout={width:W,height:H,margin:{l:0,r:0,t:0,b:0,pad:0},paper_bgcolor:BG,plot_bgcolor:BG,showlegend:false,hovermode:false,dragmode:false,
 font:{family:F,color:MUTE},bargap:0,
 xaxis:{domain:[0,3147/W],range:[-0.35,786.4],anchor:'y2',rangeslider:{visible:false},tickmode:'array',tickvals:tickCandles,ticktext:tickLabels,
   showgrid:true,gridcolor:GRID,gridwidth:1.5,zeroline:false,showline:false,ticks:'',tickfont:{family:F,size:23,color:MUTE},ticklabelstandoff:18},
 yaxis:{domain:[1-1083/H,1-69/H],range:[3362.1,4828.3],anchor:'x',side:'right',tickmode:'array',tickvals:priceTicks,ticktext:priceTicks.map(v=>v===4700?'':fmt(v)),
   showgrid:true,gridcolor:GRID,gridwidth:1.5,zeroline:false,showline:false,ticks:'',tickfont:{family:F,size:23,color:MUTE},ticklabelstandoff:14,ticklabelshift:2},
 yaxis2:{domain:[1-1420/H,1-1083/H],range:[-8.7,149.6],anchor:'x',side:'right',tickmode:'array',tickvals:volumeTicks,ticktext:volumeTicks.map(v=>v+'K'),
   showgrid:true,gridcolor:GRID,gridwidth:1.5,zeroline:false,showline:false,ticks:'',tickfont:{family:F,size:23,color:MUTE},ticklabelstandoff:14,ticklabelshift:2},
 shapes,annotations};
Plotly.newPlot('c',traces,layout,{displayModeBar:false,staticPlot:true});
</script></body></html>
